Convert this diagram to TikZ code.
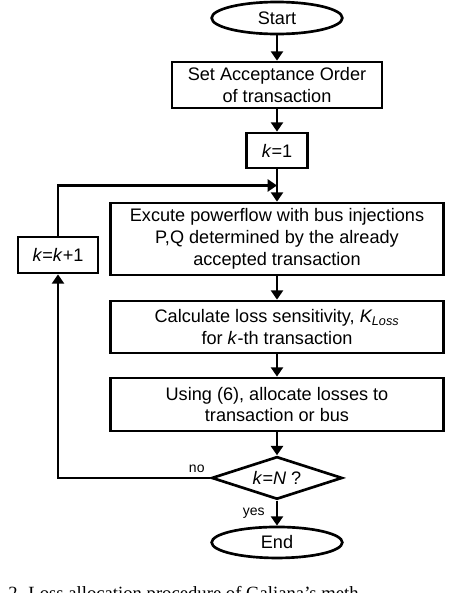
\documentclass[tikz,border=0pt]{standalone}
\usepackage{fontspec}
\setmainfont{Liberation Sans}
\newfontfamily\captionserif{Liberation Serif}
\usetikzlibrary{shapes.geometric,arrows.meta,calc}
\begin{document}
\begin{tikzpicture}[
    x=0.75pt, y=-0.75pt,
    font=\fontsize{13.6}{16.3}\selectfont,
    terminal/.style={ellipse, draw, line width=2pt, minimum width=98pt, minimum height=24pt, inner sep=0pt},
    process/.style={rectangle, draw, line width=2pt, align=center, inner sep=2pt, minimum width=249.75pt},
    decision/.style={diamond, draw, line width=2pt, aspect=3, inner sep=0pt, minimum width=98pt, minimum height=32pt},
    arrow/.style={-{Triangle[width=9pt,length=7pt]}, line width=2pt},
    branch/.style={font=\fontsize{10.5}{12}\selectfont}
]
\useasboundingbox (0,0) rectangle (474,593);
\clip (0,0) rectangle (474,593);

\node[terminal] (start) at (277,18) {Start};
\node[process, below of=start, node distance=50.25pt, minimum width=157.5pt, minimum height=34.5pt] (order) {Set Acceptance Order\\of transaction};
\node[process, below of=order, node distance=49.1pt, minimum width=45.75pt, minimum height=26.25pt] (kone) {\textit{k}=1};
\node[process, below of=kone, node distance=66.4pt, minimum height=54pt] (flow) {Excute powerflow with bus injections\\P,Q determined by the already\\accepted transaction};
\node[process, below of=flow, node distance=66pt, minimum height=39pt] (sens) {Calculate loss sensitivity, {\itshape K\textsubscript{Loss}}\\for \textit{k}-th transaction};
\node[process, below of=sens, node distance=58.1pt, minimum height=39.75pt] (alloc) {Using (6), allocate losses to\\transaction or bus};
\node[decision, below of=alloc, node distance=55.1pt] (test) {\textit{k}=\textit{N} ?};
\node[terminal, below of=test, node distance=48.4pt, minimum height=23.25pt] (stop) {End};
\node[process, minimum width=60pt, minimum height=27pt] (next) at (58,255) {\textit{k}=\textit{k}+1};

\coordinate (join) at ($(kone.south)!0.5!(flow.north)$);

\draw[arrow] (start) -- (order);
\draw[arrow] (order) -- (kone);
\draw[arrow] (kone) -- (flow);
\draw[arrow] (flow) -- (sens);
\draw[arrow] (sens) -- (alloc);
\draw[arrow] (alloc) -- (test);
\draw[arrow] (test) -- node[branch, left, xshift=-5pt] {yes} (stop);
\draw[arrow] (test.west) node[branch, above left] {no} -| (next.south);
\draw[arrow] (next.north) |- (join);

% caption, cut off by the lower edge as in the figure
\node[anchor=base west, inner sep=0pt, font=\captionserif\fontsize{14}{16}\selectfont] (caption) at (8,599) {2. Loss allocation procedure of Galiana’s meth};
\end{tikzpicture}
\end{document}
